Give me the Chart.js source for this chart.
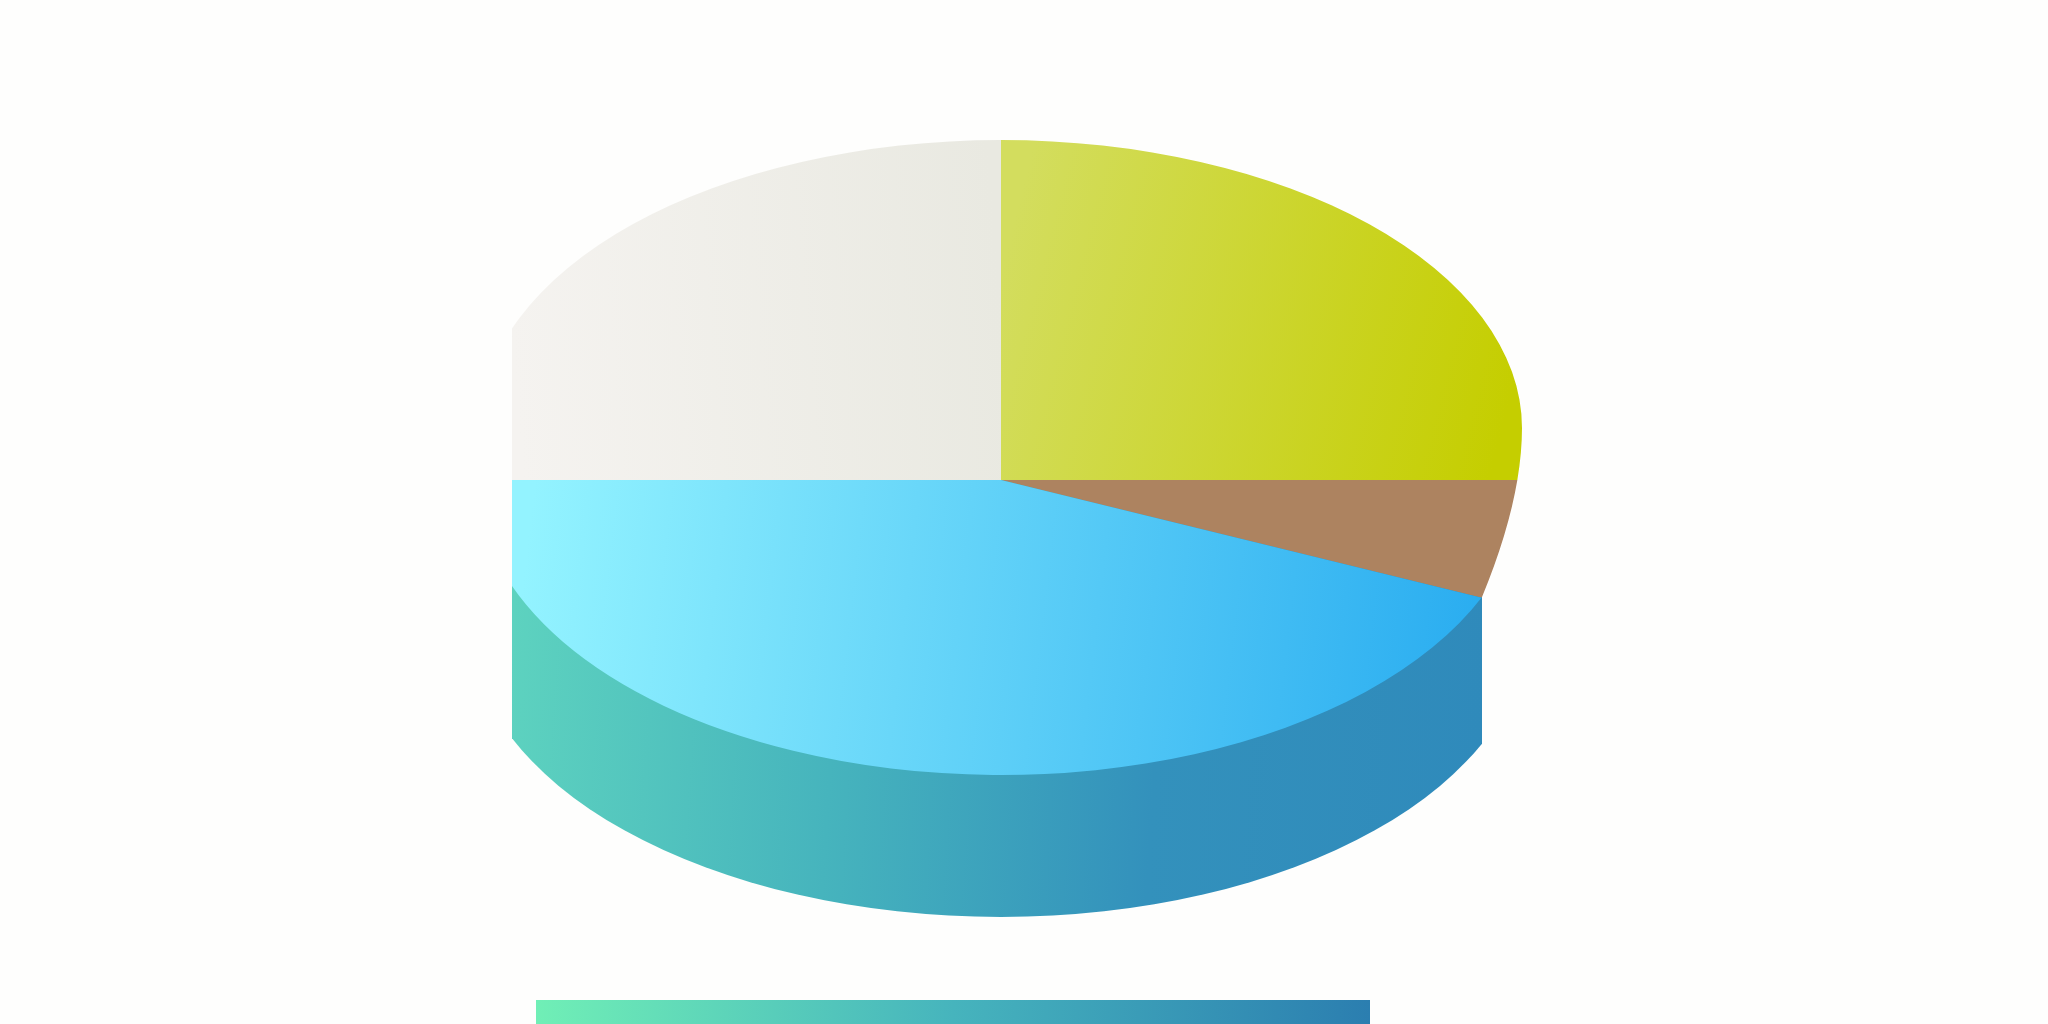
<!DOCTYPE html>
<html>
<head>
<meta charset="utf-8">
<style>
  html, body { margin: 0; padding: 0; background: #fefefd; overflow: hidden; }
  canvas { position: absolute; display: block; }
</style>
<script src="https://cdn.jsdelivr.net/npm/chart.js@4/dist/chart.umd.min.js"></script>
</head>
<body>
<canvas id="pie" width="2048" height="1024" style="left:0;top:0"></canvas>
<canvas id="strip" width="834" height="24" style="left:536px;top:1000px"></canvas>
<script>
const categories = ['A', 'B', 'C', 'D']
const seriesValues = [25, 6.5, 43.5, 25]
const stripCategories = ['E']
const stripValues = [1]

// the tilted disc is not one ellipse: upper half and lower half have their own centres
const upperRim = { y: 428, rx: 521, ry: 288 }
const lowerRim = { y: 480, rx: 524, ry: 295 }
const squash = { x: 521, up: 340, down: 295 }
const cutLeft = 512
const depth = 142
const wallLeftRx = 532
const wallRightRx = 528
// the brown slice edge runs almost straight, the lower ellipse takes over from here
const joinAngle = 0.4078

function traceRim(ctx, cx) {
    const joinX = cx + lowerRim.rx * Math.cos(joinAngle)
    const joinY = lowerRim.y + lowerRim.ry * Math.sin(joinAngle)
    ctx.beginPath()
    ctx.ellipse(cx, upperRim.y, upperRim.rx, upperRim.ry, 0, Math.PI, Math.PI * 2)
    ctx.quadraticCurveTo(cx + upperRim.rx, 500, joinX, joinY)
    ctx.ellipse(cx, lowerRim.y, lowerRim.rx, lowerRim.ry, 0, joinAngle, Math.PI)
    ctx.closePath()
}

function ray(angle) {
    const s = Math.sin(angle)
    return { x: Math.cos(angle) * squash.x, y: s * (s > 0 ? squash.down : squash.up) }
}

function wedge(ctx, arc, grow) {
    ctx.beginPath()
    ctx.moveTo(arc.x, arc.y)
    const steps = 40
    for (let i = 0; i <= steps; i++) {
        const r = ray(arc.startAngle + (arc.endAngle - arc.startAngle) * i / steps)
        ctx.lineTo(arc.x + r.x * grow, arc.y + r.y * grow)
    }
    ctx.closePath()
}

// where a slice edge in the lower half leaves the outline
function rimX(arc, angle) {
    const r = ray(angle)
    let t = 0
    while (t < 2) {
        const px = r.x * t / lowerRim.rx
        const py = (arc.y + r.y * t - lowerRim.y) / lowerRim.ry
        if (px * px + py * py >= 1) break
        t += 0.001
    }
    return arc.x + r.x * t
}

function linear(ctx, x0, y0, x1, y1, stops) {
    const g = ctx.createLinearGradient(x0, y0, x1, y1)
    stops.forEach((c, i) => g.addColorStop(i / (stops.length - 1), c))
    return g
}

const discPlugin = {
    id: 'disc',
    beforeDatasetDraw(chart) {
        const ctx = chart.ctx
        const arcs = chart.getDatasetMeta(0).data
        const blue = arcs[2]
        const wallRight = Math.round(rimX(blue, blue.startAngle))

        ctx.save()
        ctx.beginPath()
        ctx.rect(cutLeft, 0, 2048 - cutLeft, 1024)
        ctx.clip()

        // side wall under the blue slice only
        ctx.save()
        ctx.beginPath()
        ctx.rect(cutLeft, lowerRim.y, wallRight - cutLeft, 1024 - lowerRim.y)
        ctx.clip()
        ctx.fillStyle = linear(ctx, 512, 660, 1482, 720, ['#5dd2bf', '#46b4bd', '#3391bc', '#2f8abb'])
        ctx.beginPath()
        ctx.moveTo(blue.x, lowerRim.y + depth)
        ctx.ellipse(blue.x, lowerRim.y + depth, wallRightRx, lowerRim.ry, 0, 0, Math.PI / 2)
        ctx.ellipse(blue.x, lowerRim.y + depth, wallLeftRx, lowerRim.ry, 0, Math.PI / 2, Math.PI)
        ctx.fill()
        ctx.fillRect(0, lowerRim.y, 2048, depth)
        ctx.restore()

        arcs.forEach(arc => {
            ctx.save()
            wedge(ctx, arc, 2)
            ctx.clip()
            ctx.fillStyle = arc.options.backgroundColor
            traceRim(ctx, arc.x)
            ctx.fill()
            ctx.restore()
        })
        ctx.restore()
        return false
    }
}

const pieCtx = document.getElementById('pie').getContext('2d')
const faceFills = [
    linear(pieCtx, 1001, 270, 1510, 400, ['#d3dd5e', '#c5ce00']),
    '#ad8360',
    linear(pieCtx, 530, 520, 1480, 630, ['#93f3ff', '#2aadf0']),
    linear(pieCtx, 512, 340, 1001, 300, ['#f5f3f0', '#e9e9e1'])
]

new Chart(pieCtx, {
    type: 'pie',
    data: {
        labels: categories,
        datasets: [{
            data: seriesValues,
            backgroundColor: faceFills,
            borderWidth: 0
        }]
    },
    options: {
        responsive: false,
        animation: false,
        layout: { padding: { left: 0, top: 0, right: 46, bottom: 64 } },
        plugins: {
            legend: { display: false },
            tooltip: { enabled: false }
        }
    },
    plugins: [discPlugin]
})

const stripCtx = document.getElementById('strip').getContext('2d')
new Chart(stripCtx, {
    type: 'bar',
    data: {
        labels: stripCategories,
        datasets: [{
            data: stripValues,
            backgroundColor: linear(stripCtx, 0, 0, 834, 24, ['#70efb6', '#46b4bd', '#2b7eb0']),
            barPercentage: 1,
            categoryPercentage: 1
        }]
    },
    options: {
        indexAxis: 'y',
        responsive: false,
        animation: false,
        scales: {
            x: { display: false, min: 0, max: 1 },
            y: { display: false }
        },
        plugins: {
            legend: { display: false },
            tooltip: { enabled: false }
        }
    }
})
</script>
</body>
</html>
